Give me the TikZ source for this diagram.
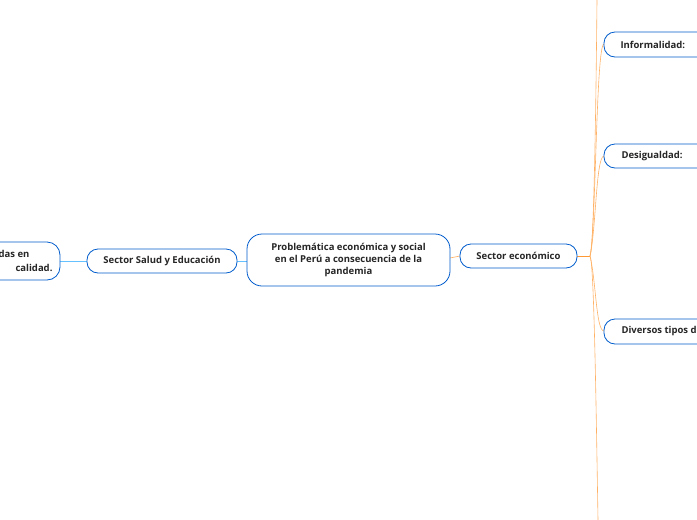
\documentclass[tikz,border=0pt]{standalone}
\usepackage{fontspec}
\setmainfont{Open Sans}
\begin{document}
\begin{tikzpicture}[x=1pt,y=-1pt,
  box/.style={draw=blue!55!cyan!80!black, line width=0.8pt, rounded corners=11pt, fill=white},
  lbl/.style={font=\bfseries\fontsize{9.5}{12}\selectfont, text=black!85},
  orl/.style={draw=orange!60, line width=0.6pt},
  bll/.style={draw=blue!40!cyan!60, line width=0.8pt}]
\useasboundingbox (0,0) rectangle (697,520);
\begin{scope}
\clip (0,0) rectangle (697,520);
% connectors
\coordinate (t) at (597,0);
\coordinate (b) at (598,520);
\coordinate (j) at (590,256);
\draw[bll] (60,261) -- (87,261);
\draw[bll] (237,261) -- (247,261);
\draw[orl] (450,258) -- (460,256);
\draw[orange!80, line width=1pt] (577,256) -- (j);
\draw[orl] (j) .. controls (594,250) and (596,100) .. (t);
\draw[orl] (j) .. controls (594,262) and (596,400) .. (b);
\draw[orl] (j) .. controls (596,230) and (596,44) .. (604,44);
\draw[orl] (j) .. controls (596,230) and (596,156) .. (604,156);
\draw[orl] (j) .. controls (596,280) and (596,331) .. (604,331);
% nodes
\draw[box, rounded corners=15pt] (247,234) rectangle (450,286);
\node[lbl, align=center] (c) at (348.5,260) {Problemática económica y social\\en el Perú a consecuencia de la\\pandemia};
\draw[box] (460,244) rectangle (577,268);
\node[lbl] (se) at (518.5,256) {Sector económico};
\draw[box] (87,249) rectangle (237,273);
\node[lbl] (ss) at (162,261) {Sector Salud y Educación};
\draw[box, rounded corners=13pt] (-60,242) rectangle (60,280);
\node[lbl, anchor=east] (l1) at (33,254) {das en};
\node[lbl, anchor=east] (l2) at (56,268) {calidad.};
\draw[box] (604,32) rectangle (760,57);
\node[lbl, anchor=west] (inf) at (617,44.5) {Informalidad:};
\draw[box] (604,144) rectangle (760,168);
\node[lbl, anchor=west] (des) at (618,156) {Desigualdad:};
\draw[box] (604,319) rectangle (800,344);
\node[lbl, anchor=west] (div) at (618,331.5) {Diversos tipos d};
\end{scope}
\end{tikzpicture}
\end{document}
